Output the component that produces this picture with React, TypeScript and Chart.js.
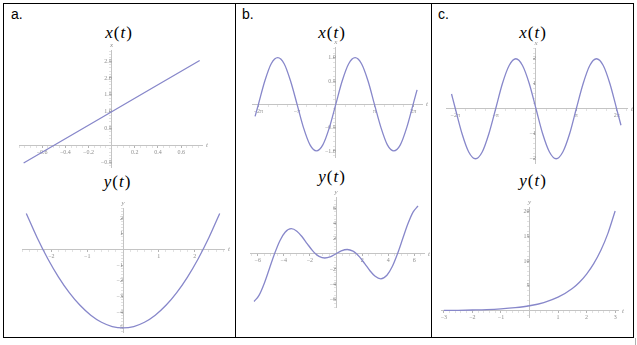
import React, { useEffect, useRef } from "react";
import { Chart, registerables } from "chart.js";

Chart.register(...registerables);

// ---------------- data ----------------
// a. x(t)
const aXT = [-0.76, 0, 0.76];
const aXV = [-0.52, 1, 2.52];
// a. y(t)
const aYT = [-2.7, -2.4, -2.1, -1.8, -1.5, -1.2, -0.9, -0.6, -0.3, 0, 0.3, 0.6, 0.9, 1.2, 1.5, 1.8, 2.1, 2.4, 2.7];
const aYV = [2.29, 0.76, -0.59, -1.76, -2.75, -3.56, -4.19, -4.64, -4.91, -5, -4.91, -4.64, -4.19, -3.56, -2.75, -1.76, -0.59, 0.76, 2.29];
// b. x(t)
const bXT = [-6.55, -6.28, -5.76, -5.24, -4.71, -4.19, -3.67, -3.14, -2.62, -2.09, -1.57, -1.05, -0.52, 0, 0.52, 1.05, 1.57, 2.09, 2.62, 3.14, 3.67, 4.19, 4.71, 5.24, 5.76, 6.28, 6.6];
const bXV = [-0.26, 0, 0.5, 0.87, 1, 0.87, 0.5, 0, -0.5, -0.87, -1, -0.87, -0.5, 0, 0.5, 0.87, 1, 0.87, 0.5, 0, -0.5, -0.87, -1, -0.87, -0.5, 0, 0.31];
// b. y(t)
const bYT = [-6.28, -5.9, -5.5, -5.1, -4.71, -4.3, -3.9, -3.43, -3.0, -2.6, -2.2, -1.8, -1.57, -1.3, -0.86, -0.4, 0, 0.4, 0.86, 1.3, 1.57, 1.8, 2.2, 2.6, 3.0, 3.43, 3.9, 4.3, 4.71, 5.1, 5.5, 5.9, 6.28];
const bYV = [-6.28, -5.47, -3.9, -1.93, 0, 1.72, 2.83, 3.29, 2.97, 2.23, 1.3, 0.41, 0, -0.35, -0.56, -0.37, 0, 0.37, 0.56, 0.35, 0, -0.41, -1.3, -2.23, -2.97, -3.29, -2.83, -1.72, 0, 1.93, 3.9, 5.47, 6.28];
// c. x(t)
const cXT = [-6.58, -6.28, -5.76, -5.24, -4.71, -4.19, -3.67, -3.14, -2.62, -2.09, -1.57, -1.05, -0.52, 0, 0.52, 1.05, 1.57, 2.09, 2.62, 3.14, 3.67, 4.19, 4.71, 5.24, 5.76, 6.28, 6.62];
const cXV = [0.59, 0, -1, -1.73, -2, -1.73, -1, 0, 1, 1.73, 2, 1.73, 1, 0, -1, -1.73, -2, -1.73, -1, 0, 1, 1.73, 2, 1.73, 1, 0, -0.66];
// c. y(t)
const cYT = [-3, -2.5, -2, -1.5, -1, -0.5, 0, 0.5, 1, 1.5, 1.75, 2, 2.25, 2.5, 2.75, 3];
const cYV = [0.05, 0.08, 0.14, 0.22, 0.37, 0.61, 1, 1.65, 2.72, 4.48, 5.75, 7.39, 9.49, 12.18, 15.64, 20.09];

// ---------------- tick values / labels ----------------
const PI = 3.14159;
const aXTicks = [-0.6, -0.4, -0.2, 0.2, 0.4, 0.6];
const aXTickLabels = ["−0.6", "−0.4", "−0.2", "0.2", "0.4", "0.6"];
const aXYTicks = [-0.5, 0.5, 1.0, 1.5, 2.0, 2.5];
const aXYTickLabels = ["−0.5", "0.5", "1.0", "1.5", "2.0", "2.5"];
const aYXTicks = [-2, -1, 1, 2];
const aYXTickLabels = ["−2", "−1", "1", "2"];
const aYYTicks = [-5, -4, -3, -2, -1, 1, 2];
const aYYTickLabels = ["−5", "−4", "−3", "−2", "−1", "1", "2"];
const piTicks = [-2 * PI, -PI, PI, 2 * PI];
const piTickLabels = ["−2π", "−π", "π", "2π"];
const bXYTicks = [-1.0, -0.5, 0.5, 1.0];
const bXYTickLabels = ["−1.0", "−0.5", "0.5", "1.0"];
const bYXTicks = [-6, -4, -2, 2, 4, 6];
const bYXTickLabels = ["−6", "−4", "−2", "2", "4", "6"];
const bYYTicks = [-6, -4, -2, 2, 4, 6];
const bYYTickLabels = ["−6", "−4", "−2", "2", "4", "6"];
const cXYTicks = [-2, -1, 1, 2];
const cXYTickLabels = ["−2", "−1", "1", "2"];
const cYXTicks = [-3, -2, -1, 1, 2, 3];
const cYXTickLabels = ["−3", "−2", "−1", "1", "2", "3"];
const cYYTicks = [5, 10, 15, 20];
const cYYTickLabels = ["5", "10", "15", "20"];

// ---------------- styles / layout ----------------
const LINE = "#8787ca";
const AXIS = "#c4c4c4";
const TEXT = "#8e8e8e";
const PAD = 12;

function minorSteps(min: number, max: number, step: number, majors: number[]) {
  const out: number[] = [];
  const start = Math.ceil(min / step);
  const end = Math.floor(max / step);
  for (let k = start; k <= end; k++) {
    const v = k * step;
    if (Math.abs(v) < 1e-9) continue;
    if (majors.some((m) => Math.abs(m - v) < 1e-6)) continue;
    out.push(v);
  }
  return out;
}

type Spec = {
  left: number; top: number; right: number; bottom: number;
  xMin: number; xMax: number; yMin: number; yMax: number;
  ts: number[]; vs: number[];
  xT: number[]; xL: string[]; xMinor: number;
  yT: number[]; yL: string[]; yMinor: number;
  name: string;
};

const axisNames = {
  id: "axisNames",
  afterDraw(chart: any, _args: any, opts: any) {
    const { ctx } = chart;
    const xs = chart.scales.x;
    const ys = chart.scales.y;
    const x0 = xs.getPixelForValue(0);
    const y0 = ys.getPixelForValue(0);
    ctx.save();
    ctx.font = 'italic 7px "Liberation Serif"';
    ctx.fillStyle = TEXT;
    ctx.textAlign = "center";
    ctx.textBaseline = "bottom";
    ctx.fillText(opts.name || "", x0, ys.top - 1);
    ctx.textAlign = "left";
    ctx.textBaseline = "middle";
    ctx.fillText("t", xs.right + 4, y0);
    ctx.restore();
  },
};

function makeAxis(axis: "x" | "y", min: number, max: number, majors: number[], labels: string[], minorStep: number) {
  const minors = minorSteps(min, max, minorStep, majors);
  const all = [...majors, ...minors].sort((a, b) => a - b);
  const isMajor = (v: number) => majors.some((m) => Math.abs(m - v) < 1e-6);
  return {
    type: "linear",
    min,
    max,
    position: axis === "x" ? { y: 0 } : { x: 0 },
    afterBuildTicks: (scale: any) => {
      scale.ticks = all.map((v) => ({ value: v }));
    },
    grid: {
      display: true,
      drawOnChartArea: false,
      drawTicks: true,
      tickLength: 2,
      tickColor: (ctx: any) => (ctx.tick && isMajor(ctx.tick.value) ? "#b4b4b4" : "#e2e2e2"),
    },
    border: { display: true, color: AXIS, width: 1 },
    ticks: {
      autoSkip: false,
      maxRotation: 0,
      minRotation: 0,
      padding: axis === "x" ? 1 : 2,
      color: TEXT,
      font: { family: '"Liberation Serif"', size: 6 },
      callback: (value: number) => {
        const i = majors.findIndex((m) => Math.abs(m - value) < 1e-6);
        return i >= 0 ? labels[i] : "";
      },
    },
  };
}

function Plot({ s }: { s: Spec }) {
  const ref = useRef<HTMLCanvasElement>(null);
  const w = s.right - s.left + 2 * PAD;
  const h = s.bottom - s.top + 2 * PAD;
  useEffect(() => {
    const chart = new Chart(ref.current as HTMLCanvasElement, {
      type: "line",
      data: {
        datasets: [
          {
            data: s.ts.map((t, i) => ({ x: t, y: s.vs[i] })),
            borderColor: LINE,
            borderWidth: 1.3,
            pointRadius: 0,
            fill: false,
            cubicInterpolationMode: "monotone",
          },
        ],
      },
      options: {
        animation: false,
        responsive: false,
        events: [],
        layout: { padding: PAD },
        plugins: {
          legend: { display: false },
          tooltip: { enabled: false },
          axisNames: { name: s.name },
        } as any,
        scales: {
          x: makeAxis("x", s.xMin, s.xMax, s.xT, s.xL, s.xMinor) as any,
          y: makeAxis("y", s.yMin, s.yMax, s.yT, s.yL, s.yMinor) as any,
        },
      },
      plugins: [axisNames as any],
    });
    return () => chart.destroy();
  }, []);
  return (
    <canvas
      ref={ref}
      width={w}
      height={h}
      style={{ position: "absolute", left: s.left - PAD, top: s.top - PAD, width: w, height: h }}
    />
  );
}

const specs: Spec[] = [
  { left: 19, top: 50, right: 202, bottom: 167, xMin: -0.8, xMax: 0.78, yMin: -0.64, yMax: 2.83,
    ts: aXT, vs: aXV, xT: aXTicks, xL: aXTickLabels, xMinor: 0.05, yT: aXYTicks, yL: aXYTickLabels, yMinor: 0.1, name: "x" },
  { left: 22, top: 208, right: 224, bottom: 332, xMin: -2.82, xMax: 2.82, yMin: -5.26, yMax: 2.64,
    ts: aYT, vs: aYV, xT: aYXTicks, xL: aYXTickLabels, xMinor: 0.2, yT: aYYTicks, yL: aYYTickLabels, yMinor: 0.2, name: "y" },
  { left: 252, top: 47, right: 422, bottom: 157, xMin: -6.8, xMax: 7.0, yMin: -1.13, yMax: 1.23,
    ts: bXT, vs: bXV, xT: piTicks, xL: piTickLabels, xMinor: PI / 4, yT: bXYTicks, yL: bXYTickLabels, yMinor: 0.1, name: "x" },
  { left: 250, top: 197, right: 424, bottom: 307, xMin: -6.59, xMax: 6.74, yMin: -7.0, yMax: 7.46,
    ts: bYT, vs: bYV, xT: bYXTicks, xL: bYXTickLabels, xMinor: 0.5, yT: bYYTicks, yL: bYYTickLabels, yMinor: 0.5, name: "y" },
  { left: 446, top: 48, right: 627, bottom: 163, xMin: -7.01, xMax: 7.09, yMin: -2.17, yMax: 2.43,
    ts: cXT, vs: cXV, xT: piTicks, xL: piTickLabels, xMinor: PI / 4, yT: cXYTicks, yL: cXYTickLabels, yMinor: 0.2, name: "x" },
  { left: 441, top: 207, right: 618, bottom: 317, xMin: -3.1, xMax: 3.1, yMin: -1.27, yMax: 20.9,
    ts: cYT, vs: cYV, xT: cYXTicks, xL: cYXTickLabels, xMinor: 0.2, yT: cYYTicks, yL: cYYTickLabels, yMinor: 1, name: "y" },
];

const titles = [
  { cx: 119, cy: 32.5, v: "x" },
  { cx: 117.5, cy: 181.5, v: "y" },
  { cx: 332, cy: 32.5, v: "x" },
  { cx: 332, cy: 176.7, v: "y" },
  { cx: 533, cy: 32.5, v: "x" },
  { cx: 533, cy: 181.3, v: "y" },
];

const letters = [
  { x: 11, v: "a." },
  { x: 242, v: "b." },
  { x: 438, v: "c." },
];

export default function App() {
  return (
    <div style={{ position: "absolute", left: 0, top: 0, width: 637, height: 345, background: "#fff", overflow: "hidden" }}>
      <div style={{ position: "absolute", left: 3, top: 3, width: 631, height: 335, boxSizing: "border-box", border: "1px solid #000" }} />
      <div style={{ position: "absolute", left: 235, top: 3, width: 1, height: 335, background: "#000" }} />
      <div style={{ position: "absolute", left: 431, top: 3, width: 1, height: 335, background: "#000" }} />
      <div style={{ position: "absolute", left: 635, top: 338, width: 1, height: 7, background: "#b0b0b0" }} />
      {letters.map((l, i) => (
        <div key={i} style={{ position: "absolute", left: l.x, top: 7, fontFamily: '"Liberation Sans", Arial, sans-serif', fontSize: 14, lineHeight: "14px", color: "#000" }}>
          {l.v}
        </div>
      ))}
      {titles.map((t, i) => (
        <div
          key={i}
          style={{
            position: "absolute",
            left: t.cx - 40,
            top: t.cy - 10,
            width: 80,
            height: 20,
            display: "flex",
            alignItems: "center",
            justifyContent: "center",
            fontFamily: '"Liberation Serif", serif',
            fontSize: 17,
            letterSpacing: 1,
            color: "#000",
          }}
        >
          <span>
            <i>{t.v}</i>(<i>t</i>)
          </span>
        </div>
      ))}
      {specs.map((s, i) => (
        <Plot key={i} s={s} />
      ))}
    </div>
  );
}
